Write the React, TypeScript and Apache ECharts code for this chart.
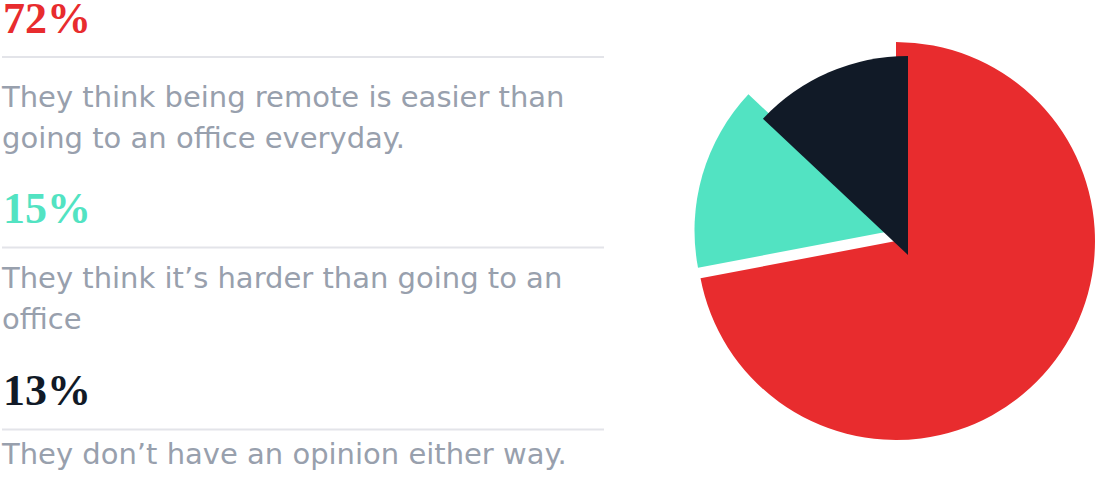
import React, { useEffect, useRef } from 'react';
import * as echarts from 'echarts';

// survey shares (percent), one per answer
const answers = ['Easier remote', 'Harder remote', 'No opinion'];
const shares = [72, 15, 13];
const shareLabels = ['72%', '15%', '13%'];
const descriptions = [
  'They think being remote is easier than\ngoing to an office everyday.',
  'They think it\u2019s harder than going to an\noffice',
  'They don\u2019t have an opinion either way.',
];
const colors = ['#e82c2e', '#52e3c2', '#111a27'];

// where each block of text sits on the left
const blockMids = [18.5, 208, 390];
const ruleYs = [57, 247.5, 429.5];
const descTops = [76.5, 257.5, 433.5];

// each slice is drawn by its own pie so it can be nudged a little
const sliceCenters = [
  [896, 241],
  [893.5, 230.5],
  [908, 255],
];

const App: React.FC = () => {
  const chartRef = useRef<HTMLDivElement>(null);

  useEffect(() => {
    if (!chartRef.current) return;
    document.body.style.margin = '0';
    const chart = echarts.init(chartRef.current, undefined, { renderer: 'svg' });

    const graphic: any[] = [];
    shareLabels.forEach((label, i) => {
      graphic.push({
        type: 'text',
        x: 3,
        y: blockMids[i],
        style: {
          text: label,
          font: 'bold 44px "Liberation Serif", serif',
          fill: colors[i],
          verticalAlign: 'middle',
        },
      });
      graphic.push({
        type: 'line',
        shape: { x1: 2, y1: ruleYs[i], x2: 604, y2: ruleYs[i] },
        style: { stroke: '#e3e4e9', lineWidth: 2 },
      });
      graphic.push({
        type: 'text',
        left: 2,
        top: descTops[i],
        style: {
          text: descriptions[i],
          font: '29px "DejaVu Sans", sans-serif',
          fill: '#98a0ad',
          lineHeight: 41,
        },
      });
    });

    const option = {
      animation: false,
      graphic,
      series: sliceCenters.map((center, idx) => ({
        type: 'pie',
        center,
        radius: 199,
        startAngle: 90,
        clockwise: true,
        silent: true,
        z: idx + 2,
        label: { show: false },
        labelLine: { show: false },
        emphasis: { disabled: true },
        data: answers.map((name, i) => ({
          name,
          value: shares[i],
          itemStyle: { color: i === idx ? colors[i] : 'transparent' },
        })),
      })),
    };

    chart.setOption(option);

    return () => {
      chart.dispose();
    };
  }, []);

  return (
    <div
      ref={chartRef}
      style={{ position: 'absolute', left: 0, top: 0, width: 1096, height: 478 }}
    />
  );
};

export default App;
